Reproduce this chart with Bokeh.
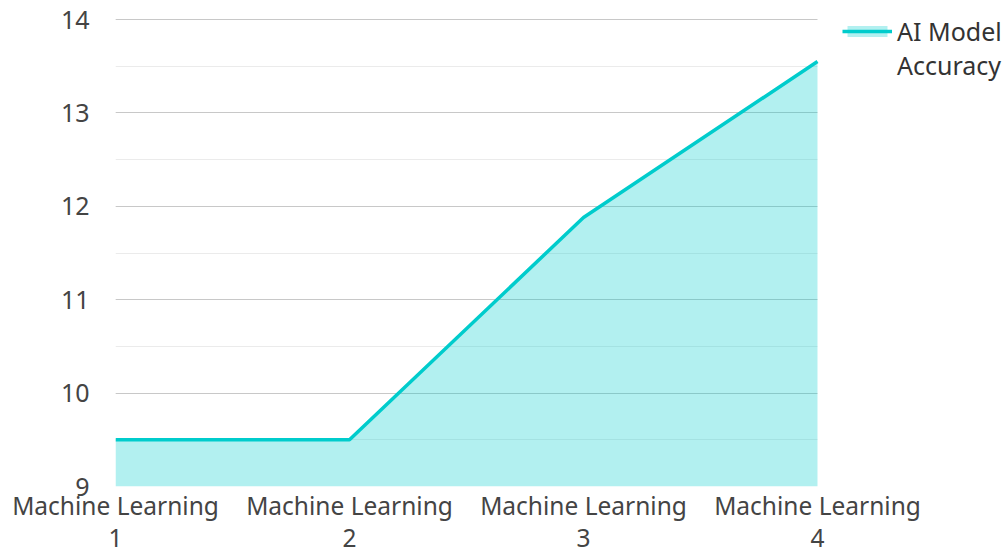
from bokeh.plotting import figure
from bokeh.models import (Range1d, FixedTicker, SingleIntervalTicker, Legend, LegendItem,
                          BoxAnnotation)
from bokeh.embed import file_html
from bokeh.resources import INLINE

categories = ["Machine Learning\n1", "Machine Learning\n2", "Machine Learning\n3", "Machine Learning\n4"]
accuracy = [9.5, 9.5, 11.88, 13.55]
series_name = "AI Model Accuracy"
y_min, y_max = 9, 14

xs = list(range(len(categories)))

FONT = "Noto Sans"
TEXT = "#444444"
LINE = "#00cccc"

W, H = 1007, 558
LEFT, TOP, BOTTOM = 115, 19, 72
DATA_W = 702                      # width of the drawn data area
DATA_H = H - BOTTOM - TOP         # height of the y_min..y_max band
FRAME_W = W - LEFT                # frame extends to the right edge to host the legend
x_end = xs[-1] * FRAME_W / DATA_W
y_end = y_max + TOP * (y_max - y_min) / DATA_H   # frame reaches the top edge

p = figure(width=W, height=H, output_backend="svg", toolbar_location=None,
           x_range=Range1d(xs[0], x_end), y_range=Range1d(y_min, y_end),
           min_border_left=LEFT, min_border_right=0, min_border_top=0, min_border_bottom=BOTTOM)
p.outline_line_color = None
p.background_fill_color = "white"

area = p.varea(x=xs, y1=[y_min] * len(xs), y2=accuracy, fill_color=LINE, fill_alpha=0.3)
line = p.line(x=xs, y=accuracy, line_color=LINE, line_width=3.5)
# invisible renderer used only to carry the wrapped second line of the legend label
blank = p.line(x=[], y=[], line_alpha=0)

p.xaxis.ticker = FixedTicker(ticks=xs)
p.xaxis.major_label_overrides = {i: c for i, c in zip(xs, categories)}
p.yaxis.ticker = SingleIntervalTicker(interval=1, num_minor_ticks=2)

for ax in (p.xaxis, p.yaxis):
    ax.axis_line_color = None
    ax.major_tick_line_color = None
    ax.minor_tick_line_color = None
    ax.major_tick_out = 0
    ax.major_tick_in = 0
    ax.minor_tick_out = 0
    ax.minor_tick_in = 0
    ax.major_label_text_font = FONT
    ax.major_label_text_font_size = "25px"
    ax.major_label_text_color = TEXT
p.yaxis.major_label_standoff = 26
p.xaxis.major_label_standoff = 2
p.xaxis.major_label_text_font_size = "24.5px"
p.xaxis.major_label_text_line_height = 0.97

p.xgrid.grid_line_color = None
p.ygrid.grid_line_color = "#c8c8c8"
p.ygrid.grid_line_width = 1
p.ygrid.minor_grid_line_color = "#ebebeb"
p.ygrid.minor_grid_line_width = 1

# blank out the grid beyond the last category (legend area)
mask = BoxAnnotation(left=xs[-1], fill_color="white", fill_alpha=1, line_alpha=0,
                     level="underlay")
p.add_layout(mask)

name_lines = series_name.rsplit(" ", 1)
legend = Legend(items=[LegendItem(label=name_lines[0], renderers=[area, line]),
                       LegendItem(label=name_lines[1], renderers=[blank])],
                location=(727, 404), padding=0, margin=0, spacing=-2, border_line_color=None,
                background_fill_alpha=0, glyph_width=50, glyph_height=14, label_standoff=5,
                label_text_font=FONT, label_text_font_size="25px", label_text_color="#333333")
p.add_layout(legend, "center")

open("out.html", "w").write(file_html(p, INLINE))
